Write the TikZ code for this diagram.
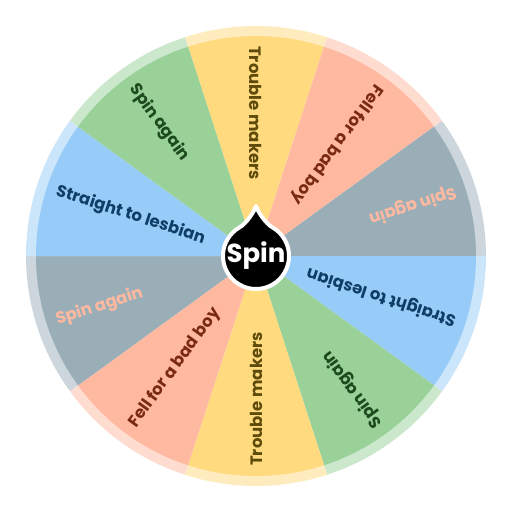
\documentclass[tikz,border=0pt]{standalone}
\usepackage{fontspec}
\setmainfont{Poppins}
\definecolor{cyel}{HTML}{FFDA7E}
\definecolor{csal}{HTML}{FFB9A0}
\definecolor{cgry}{HTML}{9AAEB8}
\definecolor{cblu}{HTML}{98CCF8}
\definecolor{cgrn}{HTML}{99D199}
\definecolor{tyel}{HTML}{5E4A0A}
\definecolor{tsal}{HTML}{7A2A10}
\definecolor{tgry}{HTML}{FFB9A0}
\definecolor{tblu}{HTML}{0E3E66}
\definecolor{tgrn}{HTML}{1D4A1D}
\tikzset{
  seglabel/.style={font=\bfseries\fontsize{16.5}{16.5}\selectfont, inner sep=0pt, anchor=west}
}
\begin{document}
\begin{tikzpicture}[x=1pt,y=1pt]
\useasboundingbox (-256,-256) rectangle (256,256);
\foreach \a/\c/\t/\lab [count=\i] in {90/cyel/tyel/Trouble makers,54/csal/tsal/Fell for a bad boy,18/cgry/tgry/Spin again,-18/cblu/tblu/Straight to lesbian,-54/cgrn/tgrn/Spin again,-90/cyel/tyel/Trouble makers,-126/csal/tsal/Fell for a bad boy,-162/cgry/tgry/Spin again,162/cblu/tblu/Straight to lesbian,126/cgrn/tgrn/Spin again}{
  \fill[\c!50!white] (0,0) -- (\a-18:230) arc[start angle=\a-18, end angle=\a+18, radius=230] -- cycle;
  \fill[\c] (0,0) -- (\a-18:220) arc[start angle=\a-18, end angle=\a+18, radius=220] -- cycle;
  \node[seglabel, text=\t, rotate=\a+180] (lab\i) at (\a:210) {\lab};
}
\draw[white, line width=4, fill=black, line join=round]
  (0,50) .. controls (2,44) and (9.6,32.6) .. (60:33)
  arc[start angle=60, end angle=-240, radius=33]
  .. controls (-9.6,32.6) and (-2,44) .. cycle;
\node[text=white, font=\bfseries\fontsize{26}{26}\selectfont, inner sep=0pt] (spin) at (0,0) {Spin};
\end{tikzpicture}
\end{document}
